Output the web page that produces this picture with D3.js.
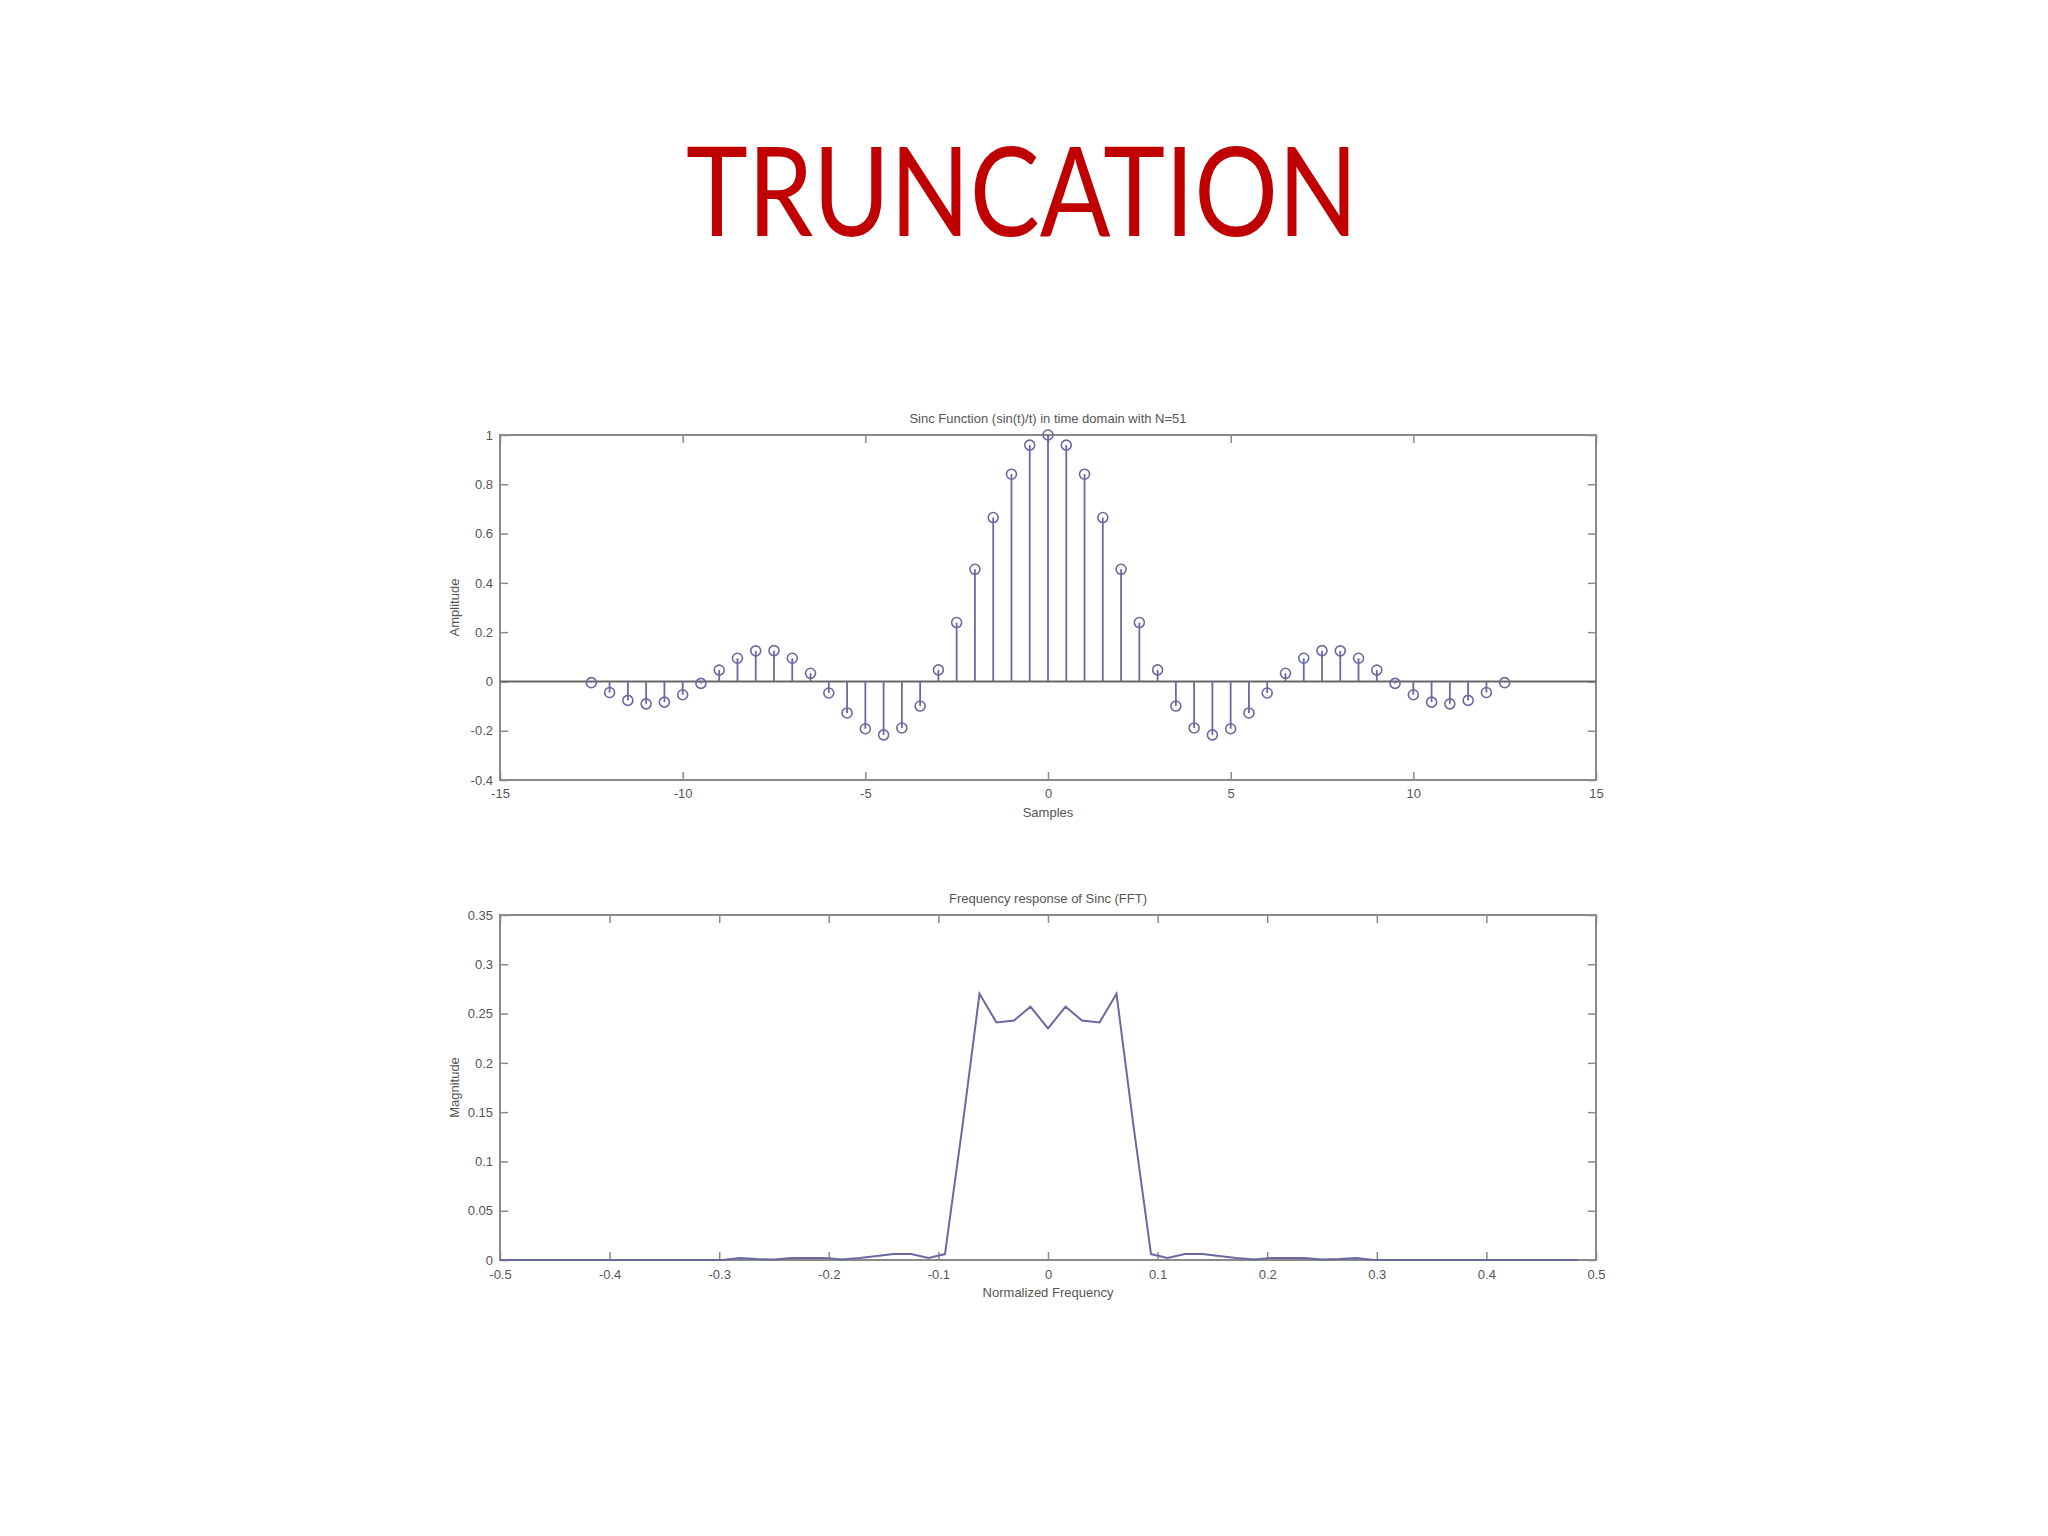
<!DOCTYPE html>
<html><head><meta charset="utf-8">
<script src="https://cdn.jsdelivr.net/npm/d3@7"></script>
<style>body{margin:0;background:#fff}svg{display:block}</style>
</head><body>
<svg id="c" width="2048" height="1536"></svg>
<script>
// ---- data ----
const sampleTimes = [-12.5,-12,-11.5,-11,-10.5,-10,-9.5,-9,-8.5,-8,-7.5,-7,-6.5,-6,-5.5,-5,-4.5,-4,-3.5,-3,-2.5,-2,-1.5,-1,-0.5,0,0.5,1,1.5,2,2.5,3,3.5,4,4.5,5,5.5,6,6.5,7,7.5,8,8.5,9,9.5,10,10.5,11,11.5,12,12.5];
const sincValues = [-0.005,-0.045,-0.077,-0.091,-0.084,-0.054,-0.008,0.046,0.094,0.124,0.125,0.094,0.033,-0.047,-0.128,-0.192,-0.217,-0.189,-0.100,0.047,0.239,0.455,0.665,0.841,0.959,1.000,0.959,0.841,0.665,0.455,0.239,0.047,-0.100,-0.189,-0.217,-0.192,-0.128,-0.047,0.033,0.094,0.125,0.124,0.094,0.046,-0.008,-0.054,-0.084,-0.091,-0.077,-0.045,-0.005];
const fftFreqs = [-0.5,-0.484,-0.469,-0.453,-0.438,-0.422,-0.406,-0.391,-0.375,-0.359,-0.344,-0.328,-0.313,-0.297,-0.281,-0.266,-0.25,-0.234,-0.219,-0.203,-0.188,-0.172,-0.156,-0.141,-0.125,-0.109,-0.094,-0.078,-0.0625,-0.047,-0.031,-0.016,0,0.016,0.031,0.047,0.0625,0.078,0.094,0.109,0.125,0.141,0.156,0.172,0.188,0.203,0.219,0.234,0.25,0.266,0.281,0.297,0.313,0.328,0.344,0.359,0.375,0.391,0.406,0.422,0.438,0.453,0.469,0.484];
const fftMagnitudes = [0,0,0,0,0,0,0,0,0,0,0,0,0,0,0.002,0.001,0.0005,0.002,0.002,0.002,0.0005,0.002,0.004,0.006,0.006,0.002,0.006,0.136,0.270,0.241,0.243,0.257,0.235,0.257,0.243,0.241,0.270,0.136,0.006,0.002,0.006,0.006,0.004,0.002,0.0005,0.002,0.002,0.002,0.0005,0.001,0.002,0,0,0,0,0,0,0,0,0,0,0,0,0];
const topXTicks = [-15,-10,-5,0,5,10,15];
const topYTicks = [-0.4,-0.2,0,0.2,0.4,0.6,0.8,1];
const botXTicks = [-0.5,-0.4,-0.3,-0.2,-0.1,0,0.1,0.2,0.3,0.4,0.5];
const botYTicks = [0,0.05,0.1,0.15,0.2,0.25,0.3,0.35];
const slideTitle = "TRUNCATION";
const topTitle = "Sinc Function (sin(t)/t) in time domain with N=51";
const botTitle = "Frequency response of Sinc (FFT)";

// ---- drawing ----
const svg = d3.select("#c");
const textCol = "#555", axisCol = "#8a8a8a", markCol = "#6a6aa2";
const font = "'Liberation Sans', Arial, sans-serif";

const titleText = svg.append("text").attr("x", 1022).attr("y", 236)
  .attr("text-anchor", "middle").attr("font-family", "Lato, sans-serif")
  .attr("font-size", 124).attr("fill", "#c00000").text(slideTitle);
titleText.attr("textLength", 672).attr("lengthAdjust", "spacingAndGlyphs");

function frame(box, xDom, yDom, xt, yt, title, xlab, ylab, xPad) {
  const x = d3.scaleLinear().domain(xDom).range([box.x0, box.x1]);
  const y = d3.scaleLinear().domain(yDom).range([box.y1, box.y0]);
  const g = svg.append("g");
  const fmt = d => String(+d.toFixed(2));
  const style = sel => {
    sel.select(".domain").remove();
    sel.selectAll(".tick line").attr("stroke", axisCol).attr("stroke-width", 1.5);
    sel.selectAll(".tick text").attr("fill", textCol).attr("font-family", font).attr("font-size", 13);
  };
  g.append("g").attr("transform", `translate(0,${box.y1})`)
    .call(d3.axisBottom(x).tickValues(xt).tickFormat(fmt).tickSizeInner(-8).tickSizeOuter(0).tickPadding(xPad)).call(style);
  g.append("g").attr("transform", `translate(0,${box.y0})`)
    .call(d3.axisTop(x).tickValues(xt).tickFormat("").tickSizeInner(-8).tickSizeOuter(0)).call(style);
  g.append("g").attr("transform", `translate(${box.x0},0)`)
    .call(d3.axisLeft(y).tickValues(yt).tickFormat(fmt).tickSizeInner(-8).tickSizeOuter(0).tickPadding(7)).call(style);
  g.append("g").attr("transform", `translate(${box.x1},0)`)
    .call(d3.axisRight(y).tickValues(yt).tickFormat("").tickSizeInner(-8).tickSizeOuter(0)).call(style);
  g.append("rect").attr("x", box.x0).attr("y", box.y0).attr("width", box.x1 - box.x0).attr("height", box.y1 - box.y0)
    .attr("fill", "none").attr("stroke", axisCol).attr("stroke-width", 2);
  const cx = (box.x0 + box.x1) / 2;
  g.append("text").attr("x", cx).attr("y", box.y0 - 12).attr("text-anchor", "middle")
    .attr("font-family", font).attr("font-size", 13).attr("fill", textCol).text(title);
  g.append("text").attr("x", cx).attr("y", box.y1 + 37).attr("text-anchor", "middle")
    .attr("font-family", font).attr("font-size", 13).attr("fill", textCol).text(xlab);
  g.append("text").attr("transform", `translate(${box.x0 - 41},${(box.y0 + box.y1) / 2}) rotate(-90)`)
    .attr("text-anchor", "middle").attr("font-family", font).attr("font-size", 13).attr("fill", textCol).text(ylab);
  return {x, y, g};
}

// top: stem plot
const topP = frame({x0: 500, x1: 1596, y0: 435, y1: 780}, [-15, 15], [-0.4, 1], topXTicks, topYTicks,
  topTitle, "Samples", "Amplitude", 9);
topP.g.append("line").attr("x1", topP.x(-15)).attr("x2", topP.x(15)).attr("y1", topP.y(0)).attr("y2", topP.y(0))
  .attr("stroke", "#666").attr("stroke-width", 2);
const stems = sampleTimes.map((s, i) => ({s, v: sincValues[i]}));
topP.g.selectAll(".stem").data(stems).join("line").attr("class", "stem")
  .attr("x1", d => topP.x(d.s)).attr("x2", d => topP.x(d.s))
  .attr("y1", topP.y(0)).attr("y2", d => topP.y(d.v))
  .attr("stroke", markCol).attr("stroke-width", 1.8);
topP.g.selectAll(".mk").data(stems).join("circle").attr("class", "mk")
  .attr("cx", d => topP.x(d.s)).attr("cy", d => topP.y(d.v)).attr("r", 5)
  .attr("fill", "none").attr("stroke", markCol).attr("stroke-width", 1.6);

// bottom: line plot
const botP = frame({x0: 500, x1: 1596, y0: 915, y1: 1260}, [-0.5, 0.5], [0, 0.35], botXTicks, botYTicks,
  botTitle, "Normalized Frequency", "Magnitude", 10);
const pts = fftFreqs.map((f, i) => [f, fftMagnitudes[i]]);
botP.g.append("path").datum(pts)
  .attr("d", d3.line().x(d => botP.x(d[0])).y(d => botP.y(d[1])))
  .attr("fill", "none").attr("stroke", markCol).attr("stroke-width", 2);
</script>
</body></html>
